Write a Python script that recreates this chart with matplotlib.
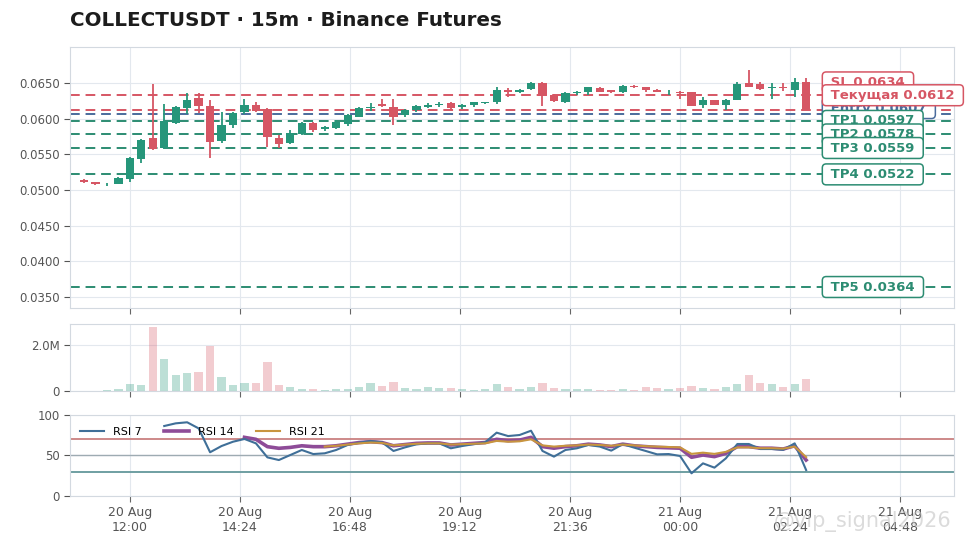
import numpy as np
import pandas as pd
import matplotlib
matplotlib.use("Agg")
import matplotlib.pyplot as plt
import matplotlib.dates as mdates
import matplotlib.transforms as mtrans

# --- data ---
times = pd.date_range("2025-08-20 11:00", periods=64, freq="15min")

opens = [0.0514, 0.0511, 0.0508, 0.0509, 0.0516, 0.0544, 0.0573, 0.0559, 0.0594, 0.0615,
         0.0629, 0.0618, 0.0569, 0.0591, 0.0609, 0.0620, 0.0614, 0.0573, 0.0566, 0.0579,
         0.0594, 0.0586, 0.0587, 0.0592, 0.0603, 0.0615, 0.0621, 0.0617, 0.0605, 0.0612,
         0.0617, 0.0619, 0.0622, 0.0617, 0.0619, 0.0622, 0.0623, 0.0641, 0.0638, 0.0642,
         0.0650, 0.0633, 0.0624, 0.0636, 0.0638, 0.0643, 0.0640, 0.0637, 0.0646, 0.0644,
         0.0641, 0.0637, 0.0638, 0.0637, 0.0619, 0.0626, 0.0619, 0.0627, 0.0650, 0.0649,
         0.0643, 0.0645, 0.0640, 0.0651]
highs = [0.0515, 0.0512, 0.0510, 0.0519, 0.0546, 0.0571, 0.0649, 0.0621, 0.0618, 0.0636,
         0.0636, 0.0626, 0.0609, 0.0610, 0.0628, 0.0623, 0.0615, 0.0577, 0.0584, 0.0596,
         0.0596, 0.0590, 0.0598, 0.0607, 0.0617, 0.0622, 0.0628, 0.0628, 0.0614, 0.0620,
         0.0622, 0.0623, 0.0623, 0.0621, 0.0624, 0.0624, 0.0644, 0.0643, 0.0642, 0.0651,
         0.0651, 0.0635, 0.0637, 0.0639, 0.0645, 0.0645, 0.0641, 0.0647, 0.0647, 0.0645,
         0.0642, 0.0641, 0.0639, 0.0638, 0.0630, 0.0627, 0.0628, 0.0651, 0.0668, 0.0651,
         0.0650, 0.0650, 0.0657, 0.0657]
lows = [0.0510, 0.0507, 0.0506, 0.0508, 0.0512, 0.0538, 0.0556, 0.0557, 0.0592, 0.0607,
        0.0608, 0.0545, 0.0566, 0.0587, 0.0607, 0.0609, 0.0560, 0.0559, 0.0564, 0.0577,
        0.0582, 0.0583, 0.0585, 0.0590, 0.0602, 0.0611, 0.0616, 0.0591, 0.0602, 0.0610,
        0.0615, 0.0617, 0.0613, 0.0614, 0.0617, 0.0621, 0.0621, 0.0630, 0.0636, 0.0641,
        0.0618, 0.0624, 0.0622, 0.0634, 0.0634, 0.0637, 0.0636, 0.0636, 0.0643, 0.0638,
        0.0637, 0.0634, 0.0628, 0.0618, 0.0615, 0.0619, 0.0612, 0.0626, 0.0644, 0.0640,
        0.0628, 0.0639, 0.0631, 0.0612]
closes = [0.0511, 0.0508, 0.0509, 0.0517, 0.0545, 0.0570, 0.0557, 0.0597, 0.0617, 0.0626,
          0.0618, 0.0567, 0.0591, 0.0608, 0.0620, 0.0611, 0.0574, 0.0565, 0.0580, 0.0594,
          0.0584, 0.0588, 0.0595, 0.0605, 0.0615, 0.0617, 0.0618, 0.0603, 0.0612, 0.0618,
          0.0619, 0.0621, 0.0615, 0.0619, 0.0623, 0.0623, 0.0640, 0.0638, 0.0641, 0.0650,
          0.0632, 0.0625, 0.0636, 0.0638, 0.0644, 0.0638, 0.0637, 0.0646, 0.0644, 0.0640,
          0.0638, 0.0638, 0.0636, 0.0618, 0.0627, 0.0620, 0.0627, 0.0649, 0.0645, 0.0642,
          0.0644, 0.0643, 0.0651, 0.0612]
# volume in millions
volumes = [0.01, 0.02, 0.03, 0.09, 0.30, 0.26, 2.77, 1.39, 0.70, 0.80,
           0.84, 1.97, 0.60, 0.26, 0.33, 0.33, 1.26, 0.26, 0.16, 0.09,
           0.09, 0.04, 0.09, 0.09, 0.16, 0.33, 0.22, 0.38, 0.12, 0.07,
           0.16, 0.12, 0.12, 0.07, 0.04, 0.07, 0.30, 0.19, 0.09, 0.19,
           0.36, 0.12, 0.07, 0.07, 0.07, 0.03, 0.03, 0.07, 0.04, 0.17,
           0.12, 0.07, 0.12, 0.22, 0.12, 0.09, 0.16, 0.30, 0.70, 0.36,
           0.30, 0.16, 0.30, 0.52]

rsi7 = [86.4, 89.7, 91.0, 83.5, 54.0, 61.7, 67.0, 70.4, 65.0, 47.7,
        44.4, 50.6, 56.8, 51.8, 52.7, 56.8, 63.0, 65.8, 67.9, 66.3,
        55.6, 60.0, 63.8, 65.0, 65.0, 58.9, 61.7, 64.0, 66.3, 78.2,
        74.0, 75.3, 80.6, 55.6, 48.6, 56.8, 58.9, 63.0, 61.0, 56.0,
        64.0, 59.7, 55.6, 51.4, 51.8, 49.4, 28.0, 40.3, 35.0, 46.5,
        64.2, 64.2, 58.0, 58.0, 57.0, 65.0, 32.0]
rsi14 = [72.4, 70.0, 60.9, 58.9, 60.0, 62.0, 60.9, 60.9, 62.0, 64.0,
         66.0, 67.0, 66.0, 62.0, 63.5, 65.0, 65.5, 65.5, 63.0, 64.0,
         65.0, 66.0, 70.0, 68.3, 69.0, 72.4, 61.0, 59.0, 61.0, 62.0,
         64.0, 63.0, 61.0, 64.0, 62.0, 61.0, 60.0, 59.5, 59.0, 47.8,
         50.6, 48.6, 52.7, 61.0, 61.0, 59.0, 59.0, 58.0, 62.0, 44.4]
rsi21 = [61.0, 62.0, 63.5, 65.0, 66.0, 65.5, 62.5, 63.5, 64.5, 65.0,
         65.0, 63.5, 64.0, 64.5, 65.0, 68.0, 67.0, 67.5, 70.0, 62.5,
         61.0, 62.0, 62.5, 63.5, 63.0, 62.0, 63.5, 62.5, 61.5, 61.0,
         60.5, 60.0, 52.0, 53.5, 52.0, 54.5, 60.0, 60.0, 59.0, 59.0,
         58.5, 61.0, 48.0]

level_names = ["SL", "Entry", "TP1", "TP2", "TP3", "TP4", "TP5"]
level_prices = [0.0634, 0.0607, 0.0597, 0.0578, 0.0559, 0.0522, 0.0364]
current_name = "Текущая"
current_price = 0.0612

title = "COLLECTUSDT · 15m · Binance Futures"

# --- style ---
GREEN = "#26967a"
RED = "#d65664"
BLUE = "#4a6b9c"
TPGREEN = "#2c8c72"
GRID = "#e3e8ee"
SPINE = "#d3d9e0"
TICK = "#555555"

plt.rcParams["font.family"] = ["DejaVu Sans"]

fig = plt.figure(figsize=(9.71, 5.48), dpi=100)
ax = fig.add_axes([0.0721, 0.438, 0.9104, 0.476])
axv = fig.add_axes([0.0721, 0.2865, 0.9104, 0.1223], sharex=ax)
axr = fig.add_axes([0.0721, 0.0949, 0.9104, 0.1478], sharex=ax)

x = mdates.date2num(times)
step = x[1] - x[0]
o = np.array(opens); h = np.array(highs); l = np.array(lows); c = np.array(closes)
up = c >= o
cols = np.where(up, GREEN, RED)

# candles
ax.vlines(x, l, h, colors=cols, lw=1.3, zorder=3)
body_lo = np.minimum(o, c)
body_h = np.maximum(np.abs(c - o), 0.00007)
ax.bar(x, body_h, bottom=body_lo, width=step * 0.72, color=cols, zorder=4)

# level lines
line_cols = {"SL": RED, "Entry": BLUE}
for name, p in zip(level_names, level_prices):
    ax.axhline(p, color=line_cols.get(name, TPGREEN), lw=1.4, ls=(0, (5, 3)), zorder=2)
ax.axhline(current_price, color=RED, lw=1.4, ls=(0, (5, 3)), zorder=2)

# labels, pushed apart bottom-up so they don't stack on each other
gap = 0.0018
all_lab = list(zip(level_names, level_prices)) + [(current_name, current_price)]
order = sorted(all_lab, key=lambda t: t[1])
label_y = {}
prev = -1
for name, p in order:
    y = max(p, prev + gap)
    label_y[name] = y
    prev = y

tr = mtrans.blended_transform_factory(ax.transAxes, ax.transData)
lab_cols = {"SL": RED, "Entry": BLUE, current_name: RED}
for name, p in all_lab:
    col = lab_cols.get(name, TPGREEN)
    z = 7 if name == current_name else 6
    ax.text(0.8555, label_y[name], f" {name} {p:.4f} ", transform=tr, color=col,
            fontsize=9.5, fontweight="bold", va="center", ha="left", zorder=z,
            bbox=dict(boxstyle="round,pad=0.3,rounding_size=0.3", fc="white", ec=col, lw=1.1))

ax.set_ylim(0.03346, 0.07005)
ax.set_yticks(np.arange(0.035, 0.0651, 0.005))
ax.yaxis.set_major_formatter(plt.FuncFormatter(lambda v, _: f"{v:.4f}"))

# volume
axv.bar(x, volumes, width=step * 0.72, color=cols, alpha=0.3, zorder=3)
axv.set_ylim(0, max(volumes) * 1.05)
axv.set_yticks([0, 2.0])
axv.yaxis.set_major_formatter(plt.FuncFormatter(lambda v, _: "0" if v == 0 else f"{v:.1f}M"))

# rsi
axr.axhline(70, color="#c98080", lw=1.3, zorder=2)
axr.axhline(50, color="#9eabb2", lw=1.0, zorder=2)
axr.axhline(30, color="#6f9fa2", lw=1.4, zorder=2)
axr.plot(times[7:], rsi7, color="#3f6f98", lw=1.5, label="RSI 7", zorder=4)
axr.plot(times[14:], rsi14, color="#8e4c98", lw=2.6, label="RSI 14", zorder=3)
axr.plot(times[21:], rsi21, color="#c8953f", lw=1.5, label="RSI 21", zorder=4)
axr.set_ylim(0, 100)
axr.set_yticks([0, 50, 100])
axr.legend(loc="upper left", ncol=3, frameon=False, fontsize=8, handlelength=2.2,
           columnspacing=2.0, bbox_to_anchor=(0.0, 0.98))

# x axis
xt = pd.date_range("2025-08-20 12:00", periods=8, freq="144min")
axr.set_xticks(mdates.date2num(xt))
axr.xaxis.set_major_formatter(mdates.DateFormatter("%d %b\n%H:%M"))
axr.set_xlim(x[0] - 1.22 * step, x[-1] + 12.9 * step)

for a in (ax, axv, axr):
    a.grid(True, color=GRID, lw=0.8, zorder=0)
    a.set_axisbelow(True)
    for s in a.spines.values():
        s.set_color(SPINE)
        s.set_linewidth(0.8)
    a.tick_params(colors=TICK, labelsize=8.5, length=4, width=0.8)
    a.tick_params(axis="x", color="#666666")
plt.setp(ax.get_xticklabels(), visible=False)
plt.setp(axv.get_xticklabels(), visible=False)
axr.tick_params(axis="x", labelsize=9)

fig.text(0.0721, 1 - 20 / 548, title, fontsize=14.3, fontweight="bold", color="#1c1c1c",
         va="center", ha="left")

# watermark
fig.text(0.797, 1 - 521 / 548, "@vip_signal2026", fontsize=15, color="#c4c4c4",
         alpha=0.6, va="center", ha="left", zorder=10)

fig.savefig("out.png", dpi=100)
